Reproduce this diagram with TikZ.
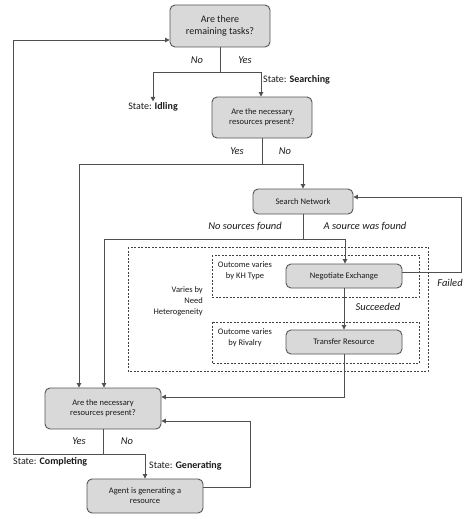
\documentclass[tikz,border=0pt]{standalone}
\usepackage{fontspec}
\setmainfont{Carlito}
\usetikzlibrary{arrows.meta}
\definecolor{boxfill}{HTML}{D9D9D9}
\definecolor{boxline}{HTML}{555555}
\definecolor{conn}{HTML}{505050}
\definecolor{txt}{HTML}{1A1A1A}
\tikzset{
  procbox/.style={draw=boxline, fill=boxfill, rounded corners=5pt, line width=0.9pt,
    align=center, inner sep=1pt, text=txt, font=\fontsize{8.5}{10}\selectfont},
  lbl/.style={font=\itshape\fontsize{10.5}{12}\selectfont, inner sep=1pt, text=txt},
  st/.style={font=\fontsize{10}{12}\selectfont, inner sep=1pt, text=txt},
  small/.style={font=\fontsize{8.5}{11}\selectfont, inner sep=1pt, align=center, text=txt},
  ln/.style={draw=conn, line width=0.9pt},
  arr/.style={ln, -{Triangle[length=4.5pt,width=4.5pt]}},
  dbox/.style={draw=black!75, dashed, dash pattern=on 2pt off 1.5pt, line width=0.6pt}
}
\begin{document}
\begin{tikzpicture}[x=1pt,y=-1pt]
\useasboundingbox (0,0) rectangle (474,519);
% boxes
\node[procbox, minimum width=100pt, minimum height=42pt, font=\fontsize{10}{12}\selectfont] (t1) at (220,26) {Are there\\remaining tasks?};
\node[st] (idle) at (153,107) {State: \textbf{Idling}};
\node[procbox, minimum width=100pt, minimum height=41pt] (r1) at (262,117.5) {Are the necessary\\resources present?};
\node[procbox, minimum width=100pt, minimum height=25pt] (sn) at (303,201.5) {Search Network};
\draw[dbox] (128,247) rectangle (428,371);
\draw[dbox] (212,255) rectangle (419,297);
\draw[dbox] (212,322) rectangle (419,363);
\node[procbox, minimum width=116pt, minimum height=24pt] (ne) at (344,276) {Negotiate Exchange};
\node[procbox, minimum width=116pt, minimum height=24pt] (tr) at (344,342) {Transfer Resource};
\node[procbox, minimum width=116pt, minimum height=41pt] (r2) at (103,408.5) {Are the necessary\\resources present?};
\node[procbox, minimum width=116pt, minimum height=34pt] (ag) at (145,496) {Agent is generating a\\resource};
% text inside dashed areas
\node[small] (kh) at (245,271) {Outcome varies\\by KH Type};
\node[small] (rv) at (245,337.5) {Outcome varies\\by Rivalry};
\node[small, align=right, anchor=east] (nh) at (204,301) {Varies by\\Need\\Heterogeneity};
% junction coordinates
\coordinate (j1) at (220,72);
\coordinate (j1l) at (153,72);
\coordinate (j1r) at (261,72);
\coordinate (j2) at (262,164);
\coordinate (j2l) at (79,164);
\coordinate (j2r) at (303,164);
\coordinate (j3) at (303,239);
\coordinate (j3l) at (104,239);
\coordinate (j3r) at (345,239);
\coordinate (j4) at (103,454);
\coordinate (j4l) at (13,454);
\coordinate (j4r) at (145,454);
% connectors
\draw[ln] (t1.south) -- (j1);
\draw[ln] (j1l) -- (j1r);
\draw[arr] (j1l) -- (idle.north);
\draw[arr] (j1r) -- (j1r |- r1.north);
\draw[ln] (r1.south) -- (j2);
\draw[ln] (j2l) -- (j2r);
\draw[arr] (j2r) -- (sn.north);
\draw[arr] (j2l) -- (j2l |- r2.north);
\draw[ln] (sn.south) -- (j3);
\draw[ln] (j3l) -- (j3r);
\draw[arr] (j3r) -- (j3r |- ne.north);
\draw[arr] (j3l) -- (j3l |- r2.north);
\draw[arr] ([yshift=4pt]ne.east) -- (461,272) -- (461,197) -- ([yshift=4.5pt]sn.east);
\draw[arr] (ne.south) -- (tr.north);
\draw[arr] (tr.south) -- (344,397) -- ([yshift=11.5pt]r2.east);
\draw[ln] (r2.south) -- (j4);
\draw[ln] (j4l) -- (j4r);
\draw[arr] (j4l) -- (13,40) -- ([yshift=-14pt]t1.west);
\draw[arr] (j4r) -- (ag.north);
\draw[arr] ([yshift=9pt]ag.east) -- (250,487) -- (250,421) -- ([yshift=-12.5pt]r2.east);
% labels
\node[lbl] (l1) at (197,60) {No};
\node[lbl] (l2) at (245,60) {Yes};
\node[st, anchor=west] (l3) at (262,80) {State: \textbf{Searching}};
\node[lbl] (l4) at (237,151) {Yes};
\node[lbl] (l5) at (285,151) {No};
\node[lbl] (l6) at (245,226) {No sources found};
\node[lbl] (l7) at (365,226) {A source was found};
\node[lbl] (l8) at (450,283) {Failed};
\node[lbl] (l9) at (378,307) {Succeeded};
\node[lbl] (l10) at (79,441) {Yes};
\node[lbl] (l11) at (127,441) {No};
\node[st, anchor=west] (l12) at (12,462) {State: \textbf{Completing}};
\node[st, anchor=west] (l13) at (148,466) {State: \textbf{Generating}};
\end{tikzpicture}
\end{document}
